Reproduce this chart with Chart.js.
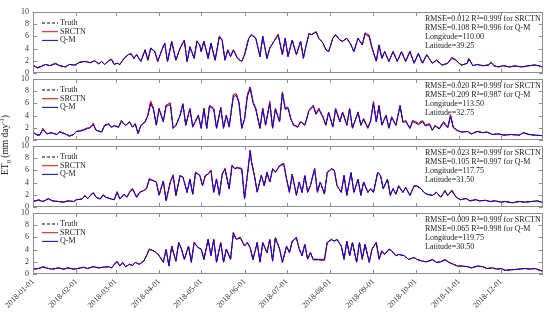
<!DOCTYPE html>
<html>
<head>
<meta charset="utf-8">
<script src="https://cdn.jsdelivr.net/npm/chart.js@4.4.1/dist/chart.umd.min.js"></script>
<style>
  body { margin: 0; background: #fff; }
  #wrap { position: relative; width: 550px; height: 315px; overflow: hidden; }
  canvas { position: absolute; left: 0; }
  #ylab { position: absolute; left: -45px; top: 138px; width: 100px; text-align: center;
          font: 9.5px 'Liberation Serif', serif; color: #111; transform: rotate(-90deg); white-space: nowrap; }
  #ylab sub, #ylab sup { font-size: 6.5px; }
</style>
</head>
<body>
<div id="wrap">
  <canvas id="p1" width="550" height="73" style="top:6px"></canvas>
  <canvas id="p2" width="550" height="73" style="top:73px"></canvas>
  <canvas id="p3" width="550" height="73" style="top:140px"></canvas>
  <canvas id="p4" width="550" height="108" style="top:207px"></canvas>
  <div id="ylab">ET<sub>0</sub> (mm day<sup>-1</sup>)</div>
</div>
<script>
var fontFam = "'Liberation Serif', 'Times New Roman', serif";

// x axis: day of year 2018, month starts
var monthDays = [0, 31, 59, 90, 120, 151, 181, 212, 243, 273, 304, 334];
var monthLabels = ["2018-01-01", "2018-02-01", "2018-03-01", "2018-04-01", "2018-05-01", "2018-06-01",
                   "2018-07-01", "2018-08-01", "2018-09-01", "2018-10-01", "2018-11-01", "2018-12-01"];
var yTicks = [0, 2, 4, 6, 8, 10];

// annotation values per panel
var rmseSrctn = [0.012, 0.020, 0.023, 0.009];
var r2Srctn = [0.999, 0.999, 0.999, 0.999];
var rmseQm = [0.108, 0.209, 0.105, 0.065];
var r2Qm = [0.996, 0.987, 0.997, 0.998];
var longitudes = [110.00, 113.50, 117.75, 119.75];
var latitudes = [39.25, 32.75, 31.50, 30.50];

// panel 1
var days1 = [0,3,5,9,12,16,19,23,26,30,
  33,37,41,44,47,49,51,54,56,58,60,62,
  65,68,70,72,74,77,80,82,84,87,89,
  92,94,96,99,102,105,108,110,112,115,117,119,120,
  122,125,127,130,133,135,137,139,141,143,146,149,151,
  154,156,159,162,164,167,169,172,175,178,180,182,
  185,188,191,193,195,197,199,202,204,207,209,211,
  214,216,219,221,224,227,229,232,235,237,240,242,
  245,247,249,251,254,257,260,263,266,269,272,
  275,278,281,285,288,292,296,299,302,304,
  306,310,311,314,317,321,325,327,329,332,
  336,340,344,349,354,358,361,364];
var truth1 = [1.3,0.9,1.0,1.4,1.2,1.6,1.2,1.0,1.4,1.3,
  1.75,1.9,1.7,2.0,1.5,1.9,1.4,2.0,2.3,1.4,1.6,1.4,
  2.4,3.0,3.2,2.4,3.0,1.9,3.8,2.1,4.1,3.5,1.9,
  3.8,4.9,1.9,5.2,2.1,4.1,5.4,1.9,4.3,2.4,5.2,4.6,3.5,
  5.2,2.4,4.9,2.1,6.0,5.4,2.1,3.8,2.7,3.8,2.4,1.9,3.0,
  5.7,6.3,5.7,2.7,6.0,2.4,4.1,5.2,6.3,3.0,5.7,2.7,
  5.4,3.0,5.2,2.4,4.6,6.5,6.3,6.8,5.7,4.9,3.8,3.5,
  5.7,6.3,5.4,5.2,5.7,4.6,3.5,5.7,4.6,6.5,6.0,4.1,
  1.9,4.6,2.4,3.5,1.9,3.5,1.9,3.5,1.9,3.6,1.6,
  3.2,1.6,3.0,1.6,2.1,1.3,1.6,2.5,2.1,1.6,
  1.3,1.6,2.4,1.2,1.4,1.2,1.3,1.75,1.2,1.0,
  1.2,1.0,1.15,1.0,1.2,1.3,1.2,0.9];
var srctn1 = [1.3,0.9,1.0,1.4,1.2,1.6,1.2,1.0,1.4,1.3,
  1.75,1.9,1.7,2.0,1.5,1.9,1.4,2.0,2.3,1.4,1.6,1.4,
  2.4,3.0,3.2,2.4,3.0,1.9,3.8,2.1,4.1,3.5,1.9,
  3.8,4.9,1.9,5.2,2.1,4.1,5.4,1.9,4.3,2.4,5.3,4.6,3.5,
  5.2,2.4,4.9,2.1,6.1,5.4,2.1,3.8,2.7,3.8,2.4,1.9,3.0,
  5.7,6.3,5.7,2.7,6.0,2.4,4.1,5.2,6.4,3.0,5.7,2.7,
  5.4,3.0,5.2,2.4,4.6,6.5,6.3,6.8,5.7,4.9,3.8,3.5,
  5.7,6.3,5.4,5.2,5.7,4.6,3.5,5.7,4.6,6.6,6.2,4.1,
  1.9,4.6,2.4,3.5,1.9,3.5,1.9,3.5,1.9,3.6,1.6,
  3.2,1.6,3.0,1.6,2.1,1.3,1.6,2.6,2.1,1.6,
  1.3,1.6,2.4,1.2,1.4,1.2,1.3,1.75,1.2,1.0,
  1.2,1.0,1.15,1.0,1.2,1.3,1.2,0.9];
var qm1 = [1.3,0.8,1.0,1.4,1.2,1.5,1.2,1.0,1.4,1.3,
  1.7,1.9,1.7,2.0,1.5,1.9,1.4,2.0,2.2,1.4,1.6,1.4,
  2.4,3.0,3.1,2.4,3.0,1.9,3.8,2.1,4.0,3.5,1.9,
  3.8,4.9,1.9,5.1,2.1,4.1,5.3,1.9,4.3,2.4,5.1,4.6,3.5,
  5.2,2.4,4.9,2.1,5.9,5.4,2.1,3.8,2.7,3.8,2.4,1.9,3.0,
  5.7,6.2,5.7,2.7,6.0,2.4,4.1,5.2,6.2,3.0,5.7,2.7,
  5.4,3.0,5.2,2.5,4.6,6.4,6.3,6.7,5.7,4.9,3.8,3.5,
  5.7,6.2,5.4,5.2,5.7,4.6,3.5,5.7,4.6,6.4,5.9,4.1,
  2.0,4.6,2.4,3.5,1.9,3.5,1.9,3.5,1.9,3.5,1.6,
  3.2,1.6,3.0,1.6,2.1,1.3,1.6,2.4,2.1,1.6,
  1.3,1.6,2.3,1.2,1.4,1.2,1.3,1.7,1.2,1.0,
  1.2,1.0,1.15,1.0,1.2,1.3,1.2,0.9];

// panel 2
var days2 = [0,3,5,7,10,13,17,19,23,26,29,
  31,35,38,41,43,45,49,51,54,56,58,
  61,63,66,69,71,73,75,77,80,82,84,86,88,90,
  93,95,98,100,102,105,107,109,112,114,118,120,
  122,124,126,129,131,134,136,138,140,143,145,147,149,
  151,153,155,157,159,162,164,166,169,171,173,176,178,180,182,184,
  186,189,191,194,197,200,202,204,207,209,211,
  214,216,219,221,224,226,228,232,234,236,239,241,
  243,245,247,249,252,254,256,259,262,264,266,269,271,273,
  275,278,280,283,285,287,290,293,296,298,300,303,
  306,310,313,317,321,324,328,332,
  336,341,347,350,354,358,364];
var truth2 = [1.3,0.8,0.8,1.9,1.0,1.2,0.9,1.4,1.0,0.6,0.9,
  1.4,1.6,1.9,2.1,2.7,1.6,1.3,2.4,2.7,2.1,2.4,
  2.1,3.2,2.4,3.0,2.1,2.7,1.0,2.4,3.0,4.1,6.3,5.2,2.4,5.2,
  3.0,5.7,6.0,1.9,2.4,4.1,6.0,2.4,5.2,2.1,4.1,1.9,
  5.2,1.9,5.7,5.2,1.9,5.4,1.9,4.1,2.1,7.4,7.6,6.3,1.9,
  3.5,7.4,8.7,6.3,5.2,1.9,5.2,2.4,6.3,1.9,5.2,3.0,7.9,5.2,5.4,3.5,
  2.4,2.1,3.0,2.4,4.9,5.7,4.3,5.2,3.8,2.4,4.6,
  2.1,5.2,3.0,4.6,2.4,5.2,1.9,4.6,2.4,3.5,1.9,3.2,
  6.3,3.0,5.7,2.4,4.1,1.9,3.8,2.4,5.7,3.0,3.2,1.9,3.2,3.0,
  2.7,3.2,2.4,2.7,1.6,2.4,1.9,3.0,2.1,4.1,2.1,1.6,
  1.3,1.4,1.0,1.4,1.2,1.3,0.9,1.0,
  0.8,0.9,0.8,1.2,0.9,0.8,0.7];
var srctn2 = [1.3,0.8,0.8,1.9,1.0,1.2,0.9,1.4,1.0,0.6,0.9,
  1.4,1.6,1.9,2.1,2.7,1.6,1.3,2.4,2.7,2.1,2.4,
  2.1,3.2,2.4,3.0,2.1,2.7,1.0,2.4,3.0,4.1,6.4,5.2,2.4,5.2,
  3.0,5.7,6.1,1.9,2.4,4.1,6.0,2.4,5.2,2.1,4.1,1.9,
  5.2,1.9,5.7,5.2,1.9,5.4,1.9,4.1,2.1,7.4,7.6,6.3,1.9,
  3.5,7.4,8.7,6.3,5.2,1.9,5.2,2.4,6.3,1.9,5.2,3.0,7.9,5.2,5.4,3.5,
  2.4,2.1,3.0,2.4,4.9,5.7,4.3,5.2,3.8,2.4,4.6,
  2.1,5.2,3.0,4.6,2.4,5.2,1.9,4.6,2.4,3.5,1.9,3.2,
  6.3,3.0,5.7,2.4,4.1,1.9,3.8,2.4,5.7,3.0,3.2,1.9,3.2,3.0,
  2.7,3.2,2.4,2.7,1.6,2.4,1.9,3.0,2.1,4.1,2.1,1.6,
  1.3,1.4,1.0,1.4,1.2,1.3,0.9,1.0,
  0.8,0.9,0.8,1.2,0.9,0.8,0.7];
var qm2 = [1.2,0.8,0.9,1.7,1.0,1.2,0.9,1.3,1.0,0.7,0.9,
  1.4,1.5,1.8,2.0,2.5,1.6,1.3,2.3,2.6,2.1,2.3,
  2.1,3.0,2.4,2.9,2.1,2.6,1.1,2.4,2.9,4.0,5.9,5.0,2.5,5.0,
  3.0,5.5,5.8,2.0,2.4,4.0,5.8,2.5,5.0,2.2,4.0,2.0,
  5.0,2.0,5.5,5.0,2.0,5.2,2.0,4.0,2.2,7.1,7.3,6.1,2.0,
  3.4,7.1,8.4,6.1,5.0,2.0,5.0,2.5,6.0,2.0,5.0,3.0,7.6,5.0,5.2,3.4,
  2.5,2.2,3.0,2.5,4.8,5.5,4.2,5.0,3.7,2.5,4.5,
  2.2,5.0,3.0,4.5,2.5,5.0,2.0,4.5,2.5,3.4,2.0,3.1,
  6.0,3.0,5.5,2.5,4.0,2.0,3.7,2.4,5.5,2.9,3.0,1.9,3.0,2.8,
  2.5,3.0,2.3,2.5,1.6,2.3,1.8,2.8,2.0,3.8,2.0,1.5,
  1.3,1.4,1.0,1.4,1.2,1.3,0.9,1.0,
  0.8,0.9,0.8,1.2,0.9,0.8,0.7];

// panel 3
var days3 = [0,4,7,11,14,18,22,25,29,
  31,35,37,39,43,45,48,50,52,56,58,
  60,62,65,67,69,71,74,76,79,81,83,86,88,90,
  93,95,98,100,102,105,107,110,112,114,116,119,121,
  123,125,127,129,131,133,135,137,140,142,144,146,149,
  151,153,155,156,158,160,163,165,167,169,171,173,176,179,181,
  183,185,188,190,192,194,196,198,201,203,205,208,210,
  213,215,217,220,222,224,227,229,232,234,236,239,241,
  243,246,248,250,253,255,257,259,261,264,266,269,272,
  274,277,279,281,285,288,291,294,296,299,302,
  305,309,312,316,319,323,326,330,334,
  337,342,347,351,356,360,364];
var truth3 = [0.9,1.2,0.9,1.4,1.0,0.9,0.8,1.0,0.9,
  1.2,1.3,1.9,1.4,2.4,1.6,1.3,2.0,1.6,1.3,1.2,
  2.5,1.3,2.1,1.6,2.5,3.0,1.6,2.4,2.7,3.0,4.6,4.3,4.1,1.9,
  4.3,1.0,4.1,5.2,1.9,5.2,4.9,2.4,4.6,2.1,5.7,5.2,3.5,
  5.2,5.4,6.0,2.4,4.6,1.9,5.4,6.3,3.0,6.8,6.3,6.5,6.3,
  1.3,5.2,9.3,7.4,5.2,2.4,5.2,3.5,5.7,4.1,6.3,5.7,6.8,7.1,4.6,
  2.4,5.4,1.9,4.1,2.4,5.2,2.4,3.5,6.3,2.4,4.1,2.1,5.7,
  6.3,6.0,3.5,2.4,5.2,1.9,5.7,2.4,4.6,1.9,4.1,2.4,3.0,
  2.4,5.7,5.2,3.0,4.6,1.9,3.0,2.1,3.5,2.4,3.2,1.9,3.5,
  3.5,3.0,2.4,2.1,1.9,2.4,1.6,2.7,1.9,2.7,1.6,
  1.2,1.4,1.0,1.2,1.0,1.1,0.9,1.0,0.8,
  0.9,0.7,0.9,0.8,0.9,1.0,0.7];
var srctn3 = [0.9,1.2,0.9,1.4,1.0,0.9,0.8,1.0,0.9,
  1.2,1.3,1.9,1.4,2.4,1.6,1.3,2.0,1.6,1.3,1.2,
  2.5,1.3,2.1,1.6,2.5,3.1,1.6,2.4,2.7,3.0,4.7,4.3,4.1,1.9,
  4.3,1.0,4.1,5.3,1.9,5.2,4.9,2.4,4.6,2.1,5.7,5.2,3.5,
  5.2,5.4,6.1,2.4,4.6,1.9,5.4,6.3,3.0,6.9,6.3,6.5,6.3,
  1.3,5.2,9.3,7.4,5.2,2.4,5.2,3.5,5.7,4.1,6.3,5.7,6.8,7.2,4.6,
  2.4,5.4,1.9,4.1,2.4,5.2,2.4,3.5,6.4,2.4,4.1,2.1,5.7,
  6.3,6.1,3.5,2.4,5.2,1.9,5.7,2.4,4.6,1.9,4.1,2.4,3.0,
  2.4,5.7,5.2,3.0,4.6,1.9,3.0,2.1,3.5,2.4,3.2,1.9,3.5,
  3.5,3.0,2.4,2.1,1.9,2.4,1.6,2.7,1.9,2.8,1.6,
  1.2,1.4,1.0,1.2,1.0,1.1,0.9,1.0,0.8,
  0.9,0.7,0.9,0.8,0.9,1.0,0.7];
var qm3 = [0.9,1.1,0.9,1.3,1.0,0.9,0.8,1.0,0.9,
  1.2,1.3,1.8,1.4,2.3,1.6,1.3,2.0,1.6,1.3,1.2,
  2.4,1.3,2.1,1.6,2.4,2.9,1.6,2.4,2.7,3.0,4.5,4.3,4.1,2.0,
  4.2,1.1,4.1,5.1,1.9,5.1,4.9,2.4,4.5,2.1,5.6,5.2,3.5,
  5.1,5.4,5.9,2.4,4.6,2.0,5.3,6.2,3.0,6.7,6.3,6.4,6.2,
  1.4,5.2,9.1,7.3,5.2,2.5,5.2,3.5,5.6,4.1,6.2,5.7,6.7,7.0,4.6,
  2.5,5.3,2.0,4.1,2.4,5.1,2.5,3.5,6.2,2.5,4.1,2.2,5.6,
  6.2,6.0,3.5,2.4,5.1,2.0,5.6,2.4,4.5,2.0,4.1,2.4,3.0,
  2.4,5.6,5.1,3.0,4.5,2.0,3.0,2.1,3.4,2.4,3.2,1.9,3.4,
  3.4,3.0,2.4,2.1,1.9,2.4,1.6,2.6,1.9,2.6,1.6,
  1.2,1.4,1.0,1.2,1.0,1.1,0.9,1.0,0.8,
  0.9,0.7,0.9,0.8,0.9,1.0,0.7];

// panel 4
var days4 = [0,4,7,11,14,18,22,25,29,
  32,36,39,43,47,50,54,56,58,
  60,62,64,66,69,71,73,76,79,81,83,86,88,90,
  93,95,97,99,102,104,106,108,111,113,115,118,120,
  122,125,127,129,131,134,136,138,141,143,145,148,151,
  153,155,157,160,162,164,167,169,171,173,176,178,181,
  183,185,188,190,192,194,196,198,200,204,208,210,
  213,215,217,220,222,224,226,228,231,233,235,237,240,
  242,245,247,249,251,254,256,259,261,265,268,272,
  274,278,281,285,288,291,294,297,300,303,
  306,310,313,317,321,324,328,331,334,
  337,342,347,351,355,358,364];
var truth4 = [0.8,0.9,1.2,0.9,0.8,1.0,0.8,1.0,0.8,
  0.9,1.1,0.9,1.2,1.0,1.1,1.2,1.0,1.6,
  2.1,1.3,1.9,1.2,1.6,1.4,1.9,1.6,2.1,3.0,4.1,3.8,3.5,3.0,
  1.9,4.1,1.3,4.6,2.1,5.2,4.1,2.4,4.6,1.9,5.2,4.3,4.1,
  2.4,5.7,3.0,5.7,1.9,5.2,1.9,4.1,2.4,6.8,5.7,6.0,4.6,
  5.2,4.3,2.4,5.2,1.9,5.2,3.5,5.7,2.1,6.0,4.1,1.9,4.6,
  3.5,5.4,6.0,4.1,3.0,4.9,2.4,3.5,2.4,2.4,2.3,5.2,
  5.7,5.4,5.7,4.6,2.4,5.4,3.0,5.2,1.9,5.2,2.4,4.9,1.9,
  4.1,5.2,2.4,3.8,3.2,4.1,3.8,3.0,3.2,3.0,2.4,2.7,
  2.4,2.1,2.0,2.4,1.9,2.0,2.4,1.9,1.6,1.3,
  1.3,1.2,1.0,1.3,1.2,0.9,1.0,0.8,0.9,
  0.6,0.7,0.8,0.9,0.8,0.9,0.4];
var srctn4 = [0.8,0.9,1.2,0.9,0.8,1.0,0.8,1.0,0.8,
  0.9,1.1,0.9,1.2,1.0,1.1,1.2,1.0,1.6,
  2.1,1.3,1.9,1.2,1.6,1.4,1.9,1.6,2.1,3.0,4.1,3.8,3.5,3.0,
  1.9,4.1,1.3,4.6,2.1,5.2,4.1,2.4,4.6,1.9,5.2,4.3,4.1,
  2.4,5.7,3.0,5.7,1.9,5.2,1.9,4.1,2.4,6.8,5.7,6.0,4.6,
  5.2,4.3,2.3,5.2,1.9,5.2,3.5,5.7,2.1,6.0,4.1,1.8,4.6,
  3.5,5.4,6.0,4.1,3.0,4.9,2.4,3.5,2.3,2.3,2.2,5.2,
  5.7,5.4,5.7,4.6,2.4,5.4,3.0,5.2,1.9,5.2,2.4,4.9,1.9,
  4.1,5.2,2.4,3.8,3.2,4.1,3.8,3.0,3.2,3.0,2.4,2.7,
  2.4,2.1,2.0,2.4,1.9,2.0,2.4,1.9,1.6,1.3,
  1.3,1.2,1.0,1.3,1.2,0.9,1.0,0.8,0.9,
  0.6,0.7,0.8,0.9,0.8,0.9,0.4];
var qm4 = [0.8,0.9,1.1,0.9,0.8,1.0,0.8,1.0,0.8,
  0.9,1.1,0.9,1.2,1.0,1.1,1.2,1.0,1.5,
  2.0,1.3,1.9,1.2,1.6,1.4,1.9,1.6,2.1,3.0,4.0,3.8,3.5,3.0,
  2.0,4.0,1.4,4.5,2.1,5.1,4.1,2.4,4.5,2.0,5.1,4.3,4.1,
  2.4,5.6,3.0,5.6,2.0,5.1,2.0,4.1,2.4,6.7,5.7,5.9,4.6,
  5.1,4.3,2.4,5.1,2.0,5.1,3.5,5.6,2.2,5.9,4.1,2.0,4.5,
  3.5,5.3,5.9,4.1,3.0,4.8,2.5,3.5,2.4,2.4,2.4,5.1,
  5.6,5.4,5.6,4.6,2.5,5.3,3.0,5.1,2.0,5.1,2.5,4.8,2.0,
  4.1,5.1,2.5,3.8,3.2,4.0,3.8,3.0,3.2,3.0,2.4,2.7,
  2.4,2.1,2.0,2.3,1.9,2.0,2.3,1.9,1.6,1.3,
  1.3,1.2,1.0,1.3,1.2,0.9,1.0,0.8,0.9,
  0.6,0.7,0.8,0.9,0.8,0.9,0.5];

// frame, inward ticks, legend and notes (MATLAB-like box)
var panelDecor = {
  id: 'panelDecor',
  afterDraw: function (chart, args, opts) {
    var ctx = chart.ctx, a = chart.chartArea;
    var xs = chart.scales.x, ys = chart.scales.y;
    var L = Math.round(a.left), R = Math.round(a.right), T = Math.round(a.top), B = Math.round(a.bottom);
    ctx.save();
    ctx.strokeStyle = '#8c8c8c';
    ctx.lineWidth = 1;
    ctx.setLineDash([]);
    ctx.strokeRect(L + 0.5, T + 0.5, R - L - 1, B - T - 1);
    ctx.beginPath();
    yTicks.forEach(function (v) {
      var py = Math.round(ys.getPixelForValue(v)) + 0.5;
      ctx.moveTo(L, py); ctx.lineTo(L + 4, py);
      ctx.moveTo(R, py); ctx.lineTo(R - 4, py);
    });
    monthDays.forEach(function (d) {
      var px = Math.round(xs.getPixelForValue(d)) + 0.5;
      ctx.moveTo(px, T); ctx.lineTo(px, T + 4);
      ctx.moveTo(px, B); ctx.lineTo(px, B - 4);
    });
    ctx.stroke();

    // legend
    ctx.font = '8px ' + fontFam;
    ctx.textBaseline = 'middle';
    ctx.textAlign = 'left';
    chart.data.datasets.forEach(function (ds, i) {
      var ly = T + 11 + i * 8.7;
      ctx.beginPath();
      ctx.strokeStyle = ds.borderColor;
      ctx.setLineDash(ds.borderDash || []);
      ctx.moveTo(L + 9, ly); ctx.lineTo(L + 25, ly);
      ctx.stroke();
      ctx.fillStyle = '#222';
      ctx.fillText(ds.label, L + 27, ly);
    });
    ctx.setLineDash([]);

    // notes
    opts.notes.forEach(function (t, i) {
      ctx.fillStyle = '#222';
      ctx.fillText(t, 425, T + 7 + i * 8.9);
    });
    ctx.restore();
  }
};

function pts(days, vals) {
  return days.map(function (d, i) { return { x: d, y: vals[i] }; });
}

function makePanel(id, k, days, truth, srctn, qm, showX) {
  var notes = [
    'RMSE=' + rmseSrctn[k].toFixed(3) + ' R\u00b2=' + r2Srctn[k].toFixed(3) + ' for SRCTN',
    'RMSE=' + rmseQm[k].toFixed(3) + ' R\u00b2=' + r2Qm[k].toFixed(3) + ' for Q-M',
    'Longitude=' + longitudes[k].toFixed(2),
    'Latitude=' + latitudes[k].toFixed(2)
  ];
  return new Chart(document.getElementById(id), {
    type: 'line',
    data: {
      datasets: [
        { label: 'Truth', data: pts(days, truth), borderColor: '#000000', borderDash: [3, 2], order: 2 },
        { label: 'SRCTN', data: pts(days, srctn), borderColor: '#ff0000', order: 1 },
        { label: 'Q-M', data: pts(days, qm), borderColor: '#0000ff', order: 0 }
      ]
    },
    options: {
      responsive: false,
      animation: false,
      layout: { padding: { top: 6, bottom: showX ? 0 : 6, left: 0, right: 7 } },
      elements: { point: { radius: 0 }, line: { borderWidth: 1, tension: 0 } },
      plugins: {
        legend: { display: false },
        tooltip: { enabled: false },
        panelDecor: { notes: notes }
      },
      scales: {
        x: {
          type: 'linear', min: 0, max: 364, display: showX,
          grid: { display: false, drawTicks: false },
          border: { display: false },
          afterBuildTicks: function (s) { s.ticks = monthDays.map(function (v) { return { value: v }; }); },
          afterFit: function (s) {
            s.height = showX ? 41 : 0;
            s.paddingLeft = 0; s.paddingRight = 0;
          },
          ticks: {
            autoSkip: false, maxRotation: 45, minRotation: 45, padding: 3,
            color: '#333', font: { family: fontFam, size: 8 },
            callback: function (v) { return monthLabels[monthDays.indexOf(v)]; }
          }
        },
        y: {
          min: 0, max: 10,
          grid: { display: false, drawTicks: false },
          border: { display: false },
          afterBuildTicks: function (s) { s.ticks = yTicks.map(function (v) { return { value: v }; }); },
          afterFit: function (s) { s.width = 33; s.paddingTop = 0; s.paddingBottom = 0; },
          ticks: { autoSkip: false, padding: 4, color: '#333', font: { family: fontFam, size: 8 } }
        }
      }
    },
    plugins: [panelDecor]
  });
}

makePanel('p1', 0, days1, truth1, srctn1, qm1, false);
makePanel('p2', 1, days2, truth2, srctn2, qm2, false);
makePanel('p3', 2, days3, truth3, srctn3, qm3, false);
makePanel('p4', 3, days4, truth4, srctn4, qm4, true);
</script>
</body>
</html>
